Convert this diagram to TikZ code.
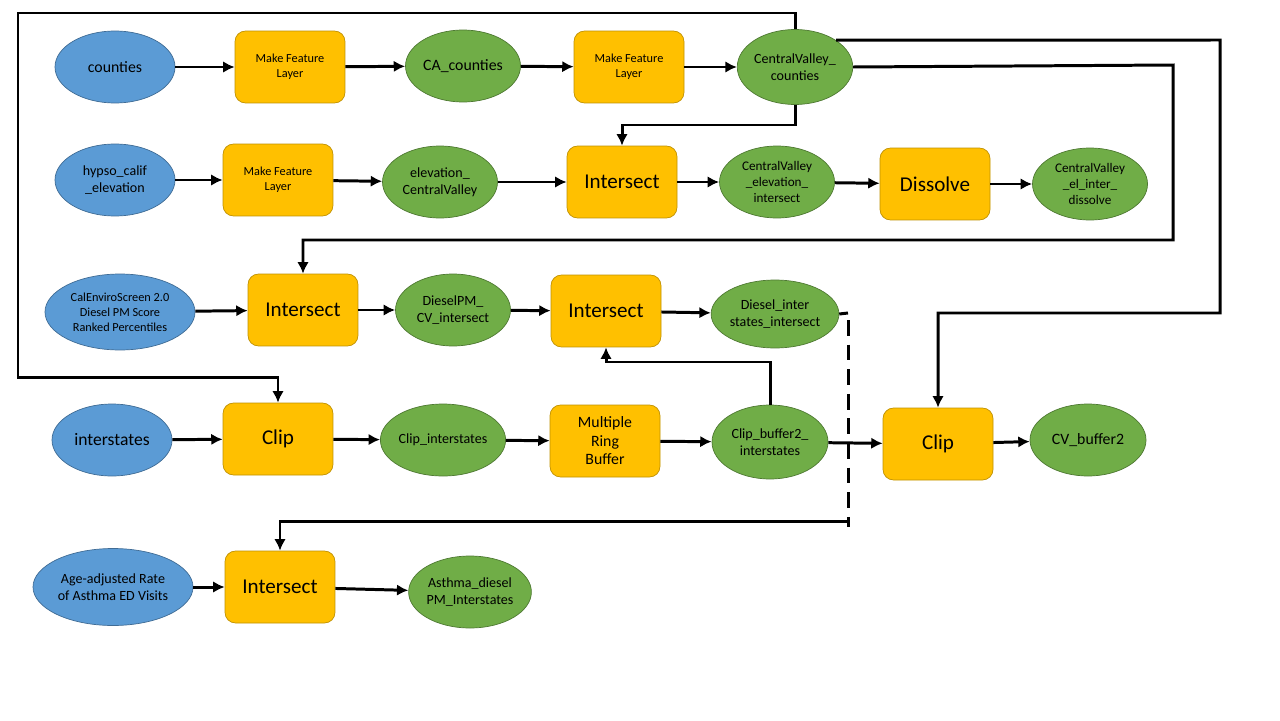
\documentclass[tikz,border=0pt]{standalone}
\usepackage{fontspec}
\setmainfont{Carlito}
\usetikzlibrary{arrows.meta,shapes.geometric}
\definecolor{inblue}{HTML}{5B9BD5}
\definecolor{ingreen}{HTML}{70AD47}
\definecolor{toolor}{HTML}{FFC000}
\tikzset{
  data/.style={ellipse, draw=inblue!70!black, fill=inblue, minimum width=#1*0.02cm, minimum height=1.44cm, inner sep=0pt, align=center, font=\fontsize{8.5}{9.5}\selectfont},
  data/.default=116,
  outd/.style={ellipse, draw=ingreen!70!black, fill=ingreen, minimum width=#1*0.02cm, minimum height=1.44cm, inner sep=0pt, align=center, font=\fontsize{8}{9.5}\selectfont},
  outd/.default=115,
  tool/.style={rectangle, rounded corners=6pt, draw=toolor!75!black, fill=toolor, minimum width=2.2cm, minimum height=1.44cm, align=center, font=\fontsize{7}{8.5}\selectfont},
  big/.style={font=\fontsize{12}{14}\selectfont},
  flow/.style={line width=1.7pt, -{Latex[length=6.5pt,width=6.5pt]}},
  link/.style={line width=1.7pt},
}
\begin{document}
\begin{tikzpicture}[x=0.02cm, y=-0.02cm]
\useasboundingbox (0,0) rectangle (1280,720);

% row 1
\node[data=120, font=\fontsize{9}{10}\selectfont] (cnt) at (115,67) {counties};
\node[tool] (mfl1) at (290,67) {Make Feature\\Layer};
\node[outd, font=\fontsize{9}{10}\selectfont] (cac) at (463,66) {CA\_counties};
\node[tool] (mfl2) at (629,67) {Make Feature\\Layer};
\node[outd, minimum height=1.5cm] (cvc) at (795,67) {CentralValley\_\\counties};
% row 2
\node[data=120, font=\fontsize{8}{9.5}\selectfont] (hyp) at (115,180) {hypso\_calif\\\_elevation};
\node[tool] (mfl3) at (278,180) {Make Feature\\Layer};
\node[outd] (elv) at (440,182) {elevation\_\\CentralValley};
\node[tool, big] (int1) at (622,182) {Intersect};
\node[outd, font=\fontsize{7.5}{9}\selectfont] (cvei) at (777,182) {CentralValley\\\_elevation\_\\intersect};
\node[tool, big] (dis) at (935,184) {Dissolve};
\node[outd, font=\fontsize{7.5}{9}\selectfont] (cveid) at (1090,184) {CentralValley\\\_el\_inter\_\\dissolve};
% row 3
\node[data=150, minimum height=1.52cm, font=\fontsize{7}{8.5}\selectfont] (cal) at (120,312) {CalEnviroScreen 2.0\\Diesel PM Score\\Ranked Percentiles};
\node[tool, big] (int2) at (303,310) {Intersect};
\node[outd] (dpm) at (453,310) {DieselPM\_\\CV\_intersect};
\node[tool, big] (int3) at (606,311) {Intersect};
\node[outd, minimum height=1.36cm] (dii) at (775,314) {Diesel\_inter\\states\_intersect};
% row 4
\node[data=120, font=\fontsize{10}{11}\selectfont] (ist) at (112,440) {interstates};
\node[tool, big] (clp1) at (278,439) {Clip};
\node[outd=113] (cli) at (443,440) {Clip\_interstates};
\node[tool, font=\fontsize{9}{10.5}\selectfont] (mrb) at (605,441) {Multiple\\Ring\\Buffer};
\node[outd=116, minimum height=1.48cm] (cbi) at (770,442) {Clip\_buffer2\_\\interstates};
\node[tool, big] (clp2) at (938,444) {Clip};
\node[outd=116, font=\fontsize{9}{10}\selectfont] (cvb) at (1088,440) {CV\_buffer2};
% row 5
\node[data=160, minimum height=1.54cm, font=\fontsize{8}{9.5}\selectfont] (age) at (113,587) {Age-adjusted Rate\\of Asthma ED Visits};
\node[tool, big] (int4) at (280,587) {Intersect};
\node[outd] (ast) at (470,592) {Asthma\_diesel\\PM\_Interstates};

% straight flows
\draw[flow] (cnt) -- (mfl1);
\draw[flow] (mfl1) -- (cac);
\draw[flow] (cac) -- (mfl2);
\draw[flow] (mfl2) -- (cvc);
\draw[flow] (hyp) -- (mfl3);
\draw[flow] (mfl3) -- (elv);
\draw[flow] (elv) -- (int1);
\draw[flow] (int1) -- (cvei);
\draw[flow] (cvei) -- (dis);
\draw[flow] (dis) -- (cveid);
\draw[flow] (cal) -- (int2);
\draw[flow] (int2) -- (dpm);
\draw[flow] (dpm) -- (int3);
\draw[flow] (int3) -- (dii);
\draw[flow] (ist) -- (clp1);
\draw[flow] (clp1) -- (cli);
\draw[flow] (cli) -- (mrb);
\draw[flow] (mrb) -- (cbi);
\draw[flow] (cbi) -- (clp2);
\draw[flow] (clp2) -- (cvb);
\draw[flow] (age) -- (int4);
\draw[flow] (int4) -- (ast);

% routed flows from CentralValley_counties
\draw[flow] (cvc.north) -- (795,13) -- (18,13) -- (18,377) -- (278,377) -- (clp1.north);
\draw[flow] (cvc.south) -- (795,125) -- (622,125) -- (int1.north);
\draw[flow] (cvc.east) -- (1173,65) -- (1173,240) -- (303,240) -- (int2.north);
\draw[flow] (cvc.north east) -- (1220,40) -- (1220,313) -- (938,313) -- (clp2.north);
\draw[flow] (cbi.north) -- (770,362) -- (606,362) -- (int3.south);
% dashed branch
\draw[link] (dii.east) -- (848,313);
\draw[link, dash pattern=on 9pt off 5pt] (848,320) -- (848,527);
\draw[flow] (848,521) -- (280,521) -- (int4.north);
\end{tikzpicture}
\end{document}
